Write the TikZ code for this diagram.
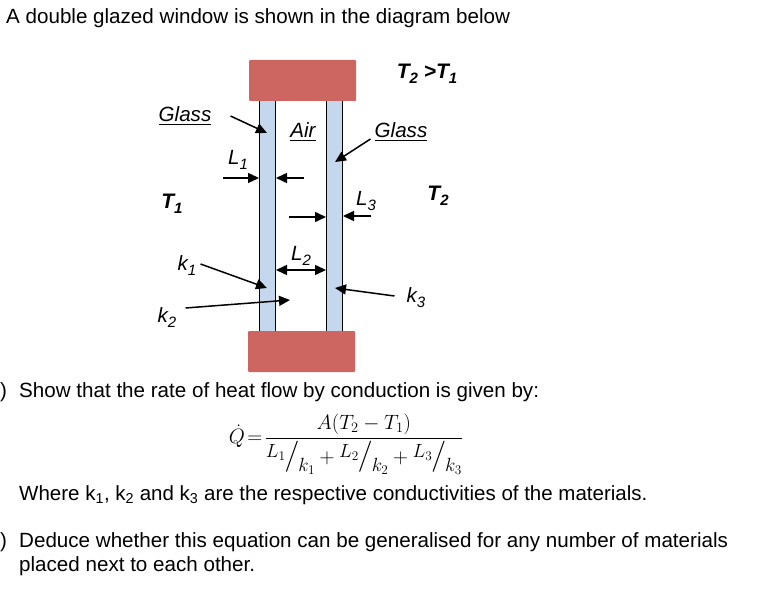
\documentclass[tikz,border=0pt]{standalone}
\usepackage{amsmath}
\usepackage{graphicx}
\usepackage[no-math]{fontspec}
\setmainfont{Liberation Sans}
\usepackage{tikz}
\usetikzlibrary{arrows.meta}
\definecolor{framered}{HTML}{CD6660}
\definecolor{paneblue}{HTML}{C5D7EC}
\newcommand{\low}[1]{\raisebox{-5pt}{\fontsize{15}{15}\selectfont #1}}
\newcommand{\ratio}[2]{\raisebox{6pt}{\scalebox{0.92}{$#1$}}\mkern-1mu\raisebox{-1pt}{\scalebox{1.5}[1.5]{$/$}}\mkern-1mu\raisebox{-8pt}{\scalebox{0.92}{$#2$}}}

\begin{document}
\begin{tikzpicture}[
    x=1pt, y=-1pt,
    body/.style={anchor=west, inner sep=0pt, align=left, font=\fontsize{20.6}{24}\selectfont},
    tag/.style={inner sep=1pt, font=\fontsize{20.6}{24}\selectfont\itshape},
    heavy/.style={inner sep=1pt, font=\fontsize{21}{24}\selectfont\itshape\bfseries},
    pane/.style={rectangle, draw, line width=1pt, fill=paneblue, inner sep=0pt, minimum width=16, minimum height=230},
    frame/.style={rectangle, fill=framered, inner sep=0pt, rounded corners=1pt, minimum width=107, minimum height=41},
    arrow/.style={-{Triangle[length=11pt,width=10pt]}, line width=1.5pt},
    twoway/.style={{Triangle[length=11pt,width=10pt]}-{Triangle[length=11pt,width=10pt]}, line width=1.5pt}
]
    \useasboundingbox (0,0) rectangle (775,601);

    % Window
    \node[pane] (paneleft) at (267.5,216) {};
    \node[pane] (paneright) at (334.5,216) {};
    \node[frame] (frametop) at (302.5,80.5) {};
    \node[frame] (framebottom) at (301.5,351.5) {};

    % Labels
    \node[tag] (glassleft) at (185,116) {\underline{Glass}};
    \node[tag] (air) at (303,132) {\underline{Air}};
    \node[tag] (glassright) at (401,132) {\underline{Glass}};
    \node[tag] (lone) at (238,160) {L\low{1}};
    \node[tag] (ltwo) at (301,256) {L\low{2}};
    \node[tag] (lthree) at (366,201) {L\low{3}};
    \node[tag] (kone) at (187,266) {k\low{1}};
    \node[tag] (ktwo) at (167,318) {k\low{2}};
    \node[tag] (kthree) at (416,298) {k\low{3}};
    \node[heavy] (tone) at (172,204) {T\low{1}};
    \node[heavy] (ttwo) at (438,196) {T\low{2}};
    \node[heavy] (tboth) at (427,74) {T\low{2} >T\low{1}};

    % Arrow ends
    \coordinate (glassleftend) at (267,133);
    \coordinate (glassrightend) at (335,162);
    \coordinate (konend) at (267,288);
    \coordinate (ktwoend) at (290,300);
    \coordinate (kthreeend) at (335,288);
    \coordinate (loneleft) at (223,178);
    \coordinate (loneright) at (304,178);
    \coordinate (lthreeleft) at (289,217);
    \coordinate (lthreeright) at (371,216);
    \coordinate (ltwomid) at (300,270);

    % Arrows
    \draw[arrow] (glassleft.east) ++(18,0) -- (glassleftend);
    \draw[arrow] (glassright.west) ++(-3,7) -- (glassrightend);
    \draw[arrow] (kone.east) ++(3,-2) -- (konend);
    \draw[arrow] (ktwo.east) ++(8,-10) -- (ktwoend);
    \draw[arrow] (kthree.west) ++(-11,-2) -- (kthreeend);
    \draw[arrow] (loneleft) -- (paneleft.west |- loneleft);
    \draw[arrow] (loneright) -- (paneleft.east |- loneright);
    \draw[arrow] (lthreeleft) -- (paneright.west |- lthreeleft);
    \draw[arrow] (lthreeright) -- (paneright.east |- lthreeright);
    \draw[twoway] (paneleft.east |- ltwomid) -- (paneright.west |- ltwomid);

    % Question text
    \node[body] (intro) at (6,18) {A double glazed window is shown in the diagram below};
    \node[body] (marka) at (0,392) {)};
    \node[body] (showtext) at (19,392) {Show that the rate of heat flow by conduction is given by:};
    \node[inner sep=0pt, font=\fontsize{20}{24}\selectfont] (formula) at (346,444)
        {$\dot{Q}\!=\!\dfrac{A(T_2-T_1)}{\ratio{L_1}{k_1}+\ratio{L_2}{k_2}+\ratio{L_3}{k_3}}$};
    \node[body] (wheretext) at (19,495) {\fontsize{20.5}{24}\selectfont Where k\textsubscript{1}, k\textsubscript{2} and k\textsubscript{3} are the respective conductivities of the materials.};
    \node[body] (markb) at (0,542) {)};
    \node[body] (deduce) at (19,554) {Deduce whether this equation can be generalised for any number of materials\\placed next to each other.};
\end{tikzpicture}
\end{document}
